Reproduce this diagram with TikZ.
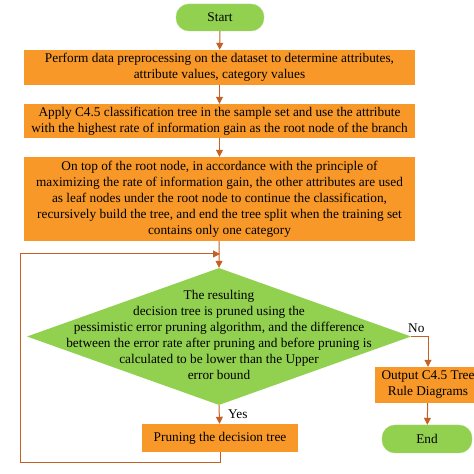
\documentclass[tikz,border=0pt]{standalone}
\usepackage{fontspec}
\setmainfont{Liberation Serif}
\usetikzlibrary{shapes.geometric,arrows.meta}
\definecolor{boxorange}{RGB}{247,152,40}
\definecolor{termgreen}{RGB}{146,208,80}
\definecolor{linebrown}{RGB}{197,96,36}

\begin{document}
\begin{tikzpicture}[x=1pt, y=1pt, >={Triangle[length=7pt,width=7pt]},
font=\fontsize{13.3}{16}\selectfont,
process/.style={fill=boxorange, inner sep=0, align=center},
terminal/.style={fill=termgreen, draw=termgreen!85!white, rounded corners=13pt, inner sep=0, align=center},
decision/.style={diamond, fill=termgreen, inner sep=0, minimum width=384pt, minimum height=137pt},
flow/.style={->, draw=linebrown, line width=1pt},
]
\useasboundingbox (0,0) rectangle (474,474);

%%%%%%%%%%%%%%%%%%%%%%%% NODES %%%%%%%%%%%%%%%%%%%%%%%%%%%
\node[terminal, minimum width=88pt, minimum height=27pt] (start) at (220,456.5) {Start};
\node[process, minimum width=391pt, minimum height=35pt] (prep) at (219.5,406.5) {Perform data preprocessing on the dataset to determine attributes,\\ attribute values, category values};
\node[process, minimum width=391pt, minimum height=34pt] (apply) at (219.5,353) {Apply C4.5 classification tree in the sample set and use the attribute\\ with the highest rate of information gain as the root node of the branch};
\node[process, minimum width=391pt, minimum height=84pt] (build) at (219.5,275) {On top of the root node, in accordance with the principle of\\ maximizing the rate of information gain, the other attributes are used\\ as leaf nodes under the root node to continue the classification,\\ recursively build the tree, and end the tree split when the training set\\ contains only one category};
\node[decision] (dec) at (219,137.5) {};
\node[align=center, inner sep=0] (dectext) at (219,139) {The resulting\\ decision tree is pruned using the\\ pessimistic error pruning algorithm, and the difference\\ between the error rate after pruning and before pruning is\\ calculated to be lower than the Upper\\ error bound};
\node[process, minimum width=156pt, minimum height=28pt] (prune) at (220,36) {Pruning the decision tree};
\node[process, minimum width=106pt, minimum height=36pt] (out) at (428,89) {Output C4.5 Tree\\ Rule Diagrams};
\node[terminal, minimum width=90pt, minimum height=28pt] (end) at (427,35) {End};

%%%%%%%%% LOOP POINTS %%%%%%%%%
\coordinate (join) at (220,220);
\coordinate (loopL) at (20,11);

%%%%%%%%%%%%%%%%%%%%%%%% CONNECTORS %%%%%%%%%%%%%%%%%%%%%%%%%%%
\draw[flow] (start) -- (prep);
\draw[flow] (prep) -- (apply);
\draw[flow] (apply) -- (build);
\draw[flow] (build) -- (dec.north);
\draw[flow] (dec.south) -- (prune) node[midway, right, xshift=5pt]{Yes};
\draw[flow] (prune.south) |- (loopL) |- (join);
\draw[flow] (dec.east) -| (out.north) node[pos=.5, anchor=south east, inner sep=3pt]{No};
\draw[flow] (out) -- (end);
\end{tikzpicture}
\end{document}
